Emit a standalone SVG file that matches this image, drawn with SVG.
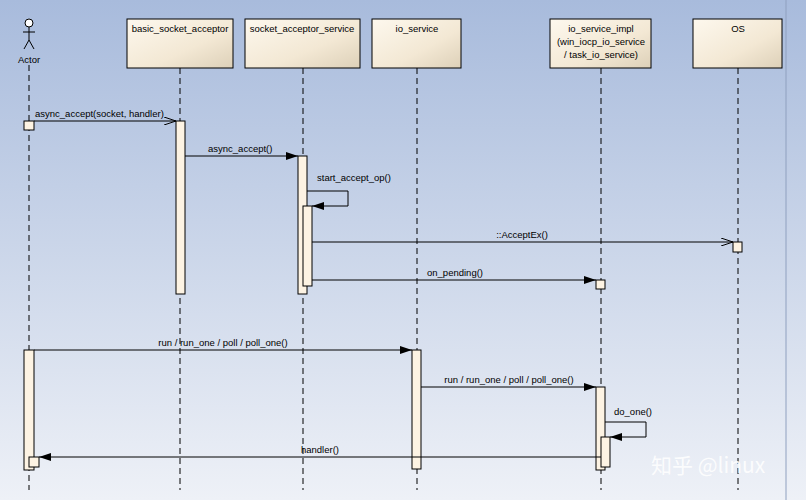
<svg xmlns="http://www.w3.org/2000/svg" width="806" height="500" viewBox="0 0 806 500">
<defs>
<linearGradient id="bg" x1="0" y1="0" x2="0" y2="1"><stop offset="0" stop-color="#a8bbdc"/><stop offset="1" stop-color="#eef1f7"/></linearGradient>
<linearGradient id="box" x1="0" y1="0" x2="1" y2="1"><stop offset="0" stop-color="#fdf8ee"/><stop offset="0.6" stop-color="#f3e8d4"/><stop offset="1" stop-color="#ddd0b8"/></linearGradient>
<marker id="fill" markerWidth="12" markerHeight="8" refX="12" refY="4" orient="auto" markerUnits="userSpaceOnUse"><path d="M0,0 L12,4 L0,8 Z" fill="#000"/></marker>
<marker id="open" markerWidth="12" markerHeight="8" refX="12" refY="4" orient="auto" markerUnits="userSpaceOnUse"><path d="M0,0 L12,4 L0,8" fill="none" stroke="#000"/></marker>
</defs>
<style>
text{font-family:"Liberation Sans",Arial,sans-serif;font-size:9.5px;fill:#000}
.hd{fill:url(#box);stroke:#000;stroke-width:1}
.ll{stroke:#000;stroke-dasharray:6,4;fill:none}
.act{fill:#fdf3e3;stroke:#000;stroke-width:1}
.msg{stroke:#000;fill:none;stroke-width:1}
</style>
<rect width="806" height="500" fill="url(#bg)"/>
<line x1="786" y1="0" x2="786" y2="500" stroke="#8fa0bf"/>
<g id="lifelines">
<line class="ll" x1="29" y1="65" x2="29" y2="490"/>
<line class="ll" x1="180" y1="68" x2="180" y2="490"/>
<line class="ll" x1="303" y1="68" x2="303" y2="490"/>
<line class="ll" x1="417" y1="68" x2="417" y2="490"/>
<line class="ll" x1="601" y1="68" x2="601" y2="490"/>
<line class="ll" x1="738" y1="68" x2="738" y2="490"/>
</g>
<g id="actor">
<circle cx="29" cy="23" r="4" fill="#fff" stroke="#000"/>
<path d="M29,27 V40 M23,32 H35 M29,40 L24,49 M29,40 L34,49" stroke="#000" fill="none"/>
<text x="29" y="63" text-anchor="middle">Actor</text>
</g>
<g id="basic_socket_acceptor"><rect class="hd" x="127" y="19" width="106" height="49"/><text x="180" y="32" text-anchor="middle">basic_socket_acceptor</text></g>
<g id="socket_acceptor_service"><rect class="hd" x="245" y="19" width="115" height="49"/><text x="302" y="32" text-anchor="middle">socket_acceptor_service</text></g>
<g id="io_service"><rect class="hd" x="372" y="19" width="89" height="49"/><text x="417" y="32" text-anchor="middle">io_service</text></g>
<g id="io_service_impl"><rect class="hd" x="550" y="19" width="101" height="49"/><text x="601" y="32" text-anchor="middle">io_service_impl</text><text x="601" y="45" text-anchor="middle">(win_iocp_io_service</text><text x="601" y="58" text-anchor="middle">/ task_io_service)</text></g>
<g id="OS"><rect class="hd" x="693" y="19" width="89" height="49"/><text x="738" y="32" text-anchor="middle">OS</text></g>
<g id="activations">
<rect class="act" x="24" y="121" width="10" height="9"/>
<rect class="act" x="176" y="121" width="9" height="173"/>
<rect class="act" x="298" y="156" width="9" height="138"/>
<rect class="act" x="303" y="206" width="9" height="80"/>
<rect class="act" x="733" y="242" width="9" height="10"/>
<rect class="act" x="596" y="280" width="9" height="9"/>
<rect class="act" x="24" y="350" width="10" height="120"/>
<rect class="act" x="412" y="350" width="9" height="119"/>
<rect class="act" x="596" y="387" width="9" height="83"/>
<rect class="act" x="601" y="437" width="9" height="30"/>
<rect class="act" x="29" y="457" width="10" height="10"/>
</g>
<g id="connectors">
<line class="msg" x1="34" y1="121" x2="176" y2="121" marker-end="url(#open)"/>
<text x="35" y="117">async_accept(socket, handler)</text>
<line class="msg" x1="185" y1="156" x2="298" y2="156" marker-end="url(#fill)"/>
<text x="208" y="152">async_accept()</text>
<path class="msg" d="M307,191 H348 V206 H312" marker-end="url(#fill)"/>
<text x="317" y="181">start_accept_op()</text>
<line class="msg" x1="312" y1="242" x2="733" y2="242" marker-end="url(#open)"/>
<text x="522" y="238" text-anchor="middle">::AcceptEx()</text>
<line class="msg" x1="312" y1="280" x2="596" y2="280" marker-end="url(#fill)"/>
<text x="455" y="276" text-anchor="middle">on_pending()</text>
<line class="msg" x1="34" y1="350" x2="412" y2="350" marker-end="url(#fill)"/>
<text x="223" y="346" text-anchor="middle">run / run_one / poll / poll_one()</text>
<line class="msg" x1="421" y1="387" x2="596" y2="387" marker-end="url(#fill)"/>
<text x="509" y="383" text-anchor="middle">run / run_one / poll / poll_one()</text>
<path class="msg" d="M605,422 H646 V437 H610" marker-end="url(#fill)"/>
<text x="614" y="415">do_one()</text>
<line class="msg" x1="601" y1="457" x2="39" y2="457" marker-end="url(#fill)"/>
<text x="320" y="453" text-anchor="middle">handler()</text>
</g>
<text x="651" y="473" style="font-family:'Noto Sans CJK SC','Liberation Sans',sans-serif;font-size:21px;fill:#ffffff;opacity:0.85">知乎 @linux</text>
</svg>
